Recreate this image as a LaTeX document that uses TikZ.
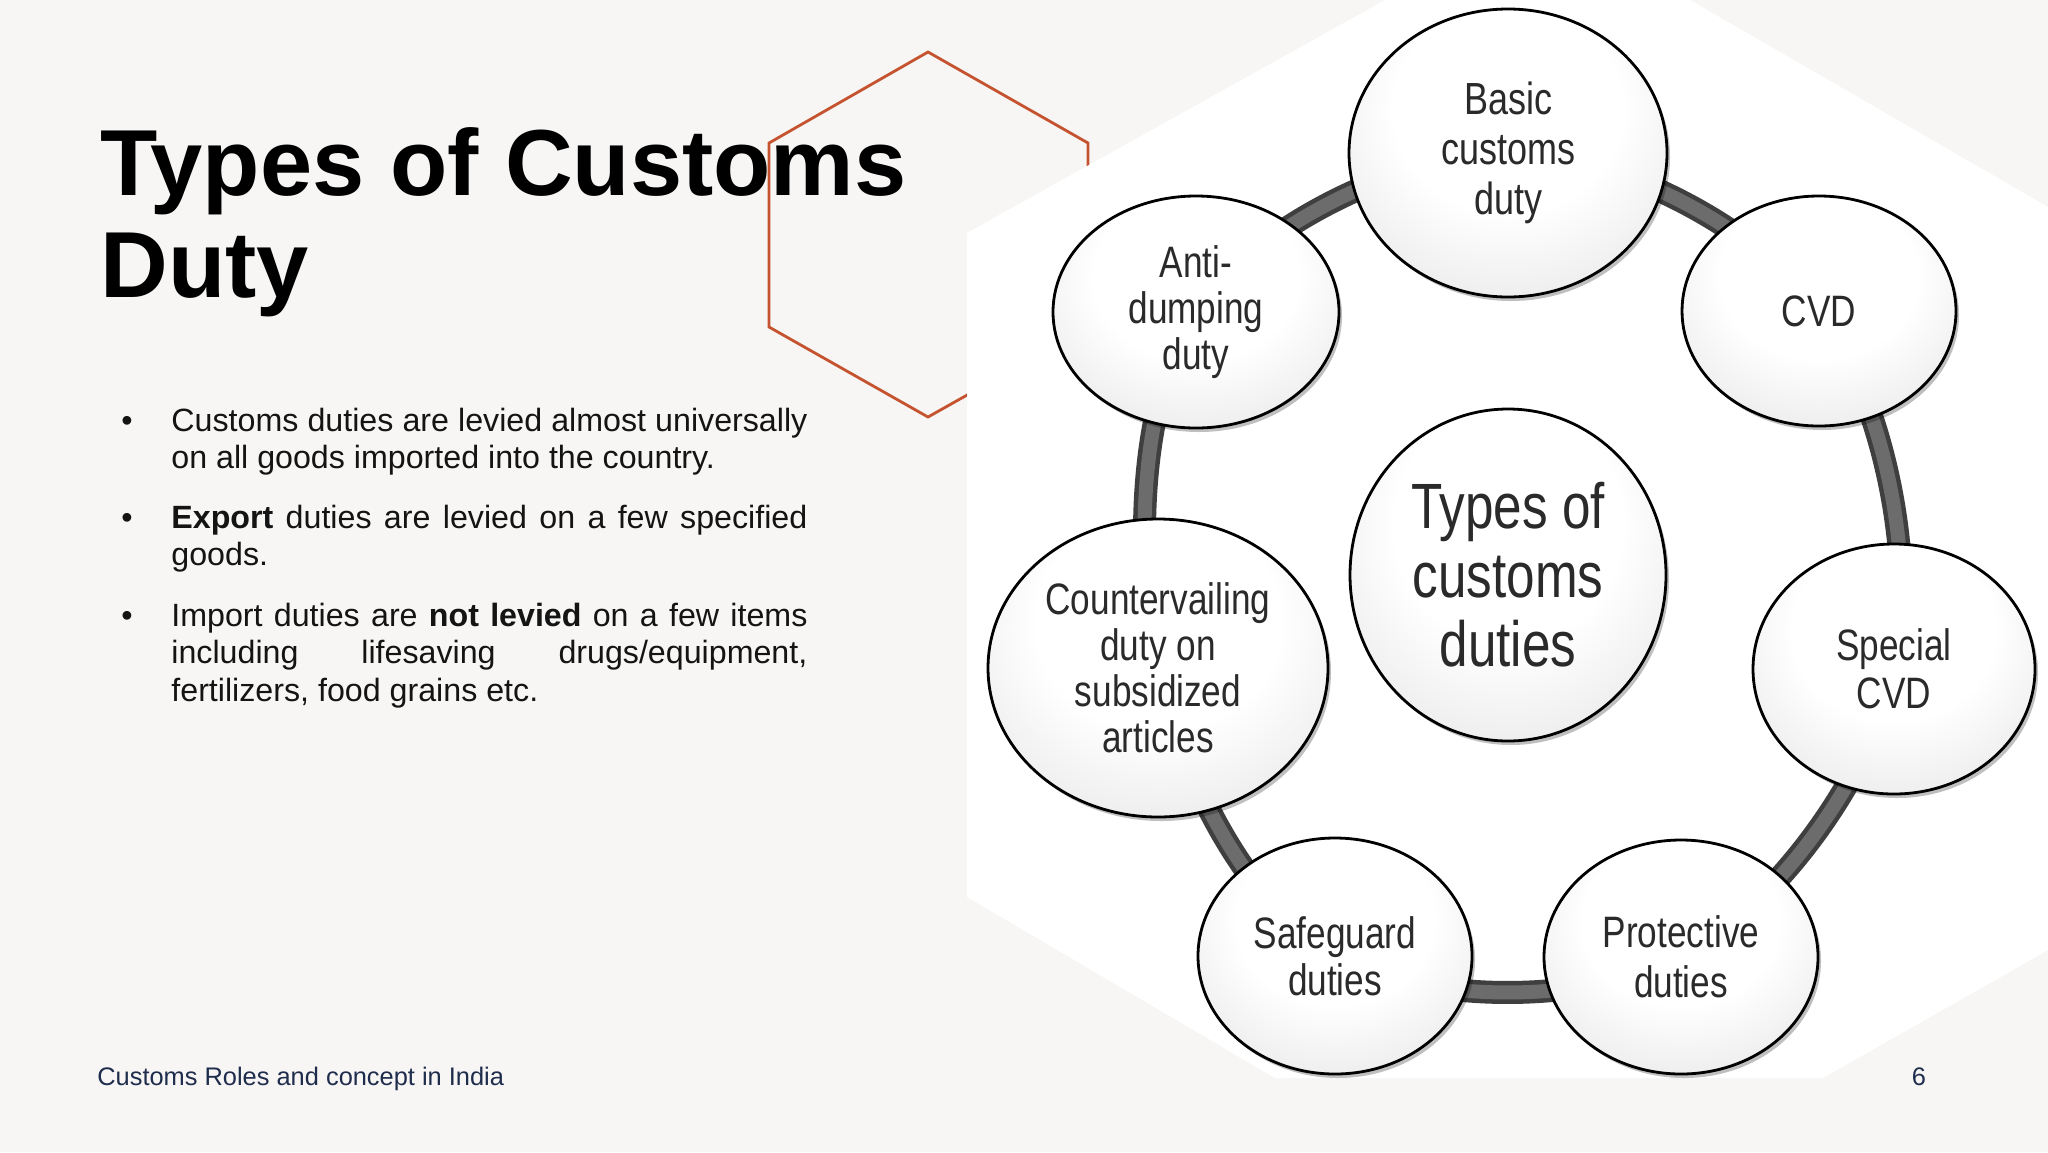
\documentclass[tikz,border=0pt]{standalone}
\usepackage{fontspec}
\setmainfont{Liberation Sans}
\newfontfamily\narrowfont[FakeStretch=0.8]{Liberation Sans}
\usetikzlibrary{shapes.geometric,shadows}
\definecolor{bg}{HTML}{F7F6F4}
\definecolor{rust}{HTML}{C5532F}
\definecolor{navy}{HTML}{1F2D4D}
\definecolor{bubtext}{HTML}{2A2A2A}
\definecolor{barout}{HTML}{3F3F3F}
\definecolor{barin}{HTML}{6C6C6C}
\pgfdeclareradialshading{bubble}{\pgfpoint{0bp}{12bp}}{color(0bp)=(white); color(18bp)=(white); color(38bp)=(black!11); color(50bp)=(black!34)}
\begin{document}
\begin{tikzpicture}[x=0.5pt,y=-0.5pt,
  bubble/.style={ellipse, draw=black, line width=1.4pt, shade, shading=bubble,
    inner sep=0pt, outer sep=0pt, align=center, text=bubtext,
    font=\narrowfont\fontsize{22}{24}\selectfont,
    drop shadow={opacity=0.25, shadow xshift=1.5pt, shadow yshift=-2pt, fill=black}},
  para/.style={anchor=base west, inner sep=0pt, text width=318pt, align=justify,
    font=\fontsize{16.1}{18.75}\selectfont, text=black!92},
  bul/.style={anchor=base, inner sep=0pt, font=\fontsize{16.1}{18.75}\selectfont, text=black!92},
  foot/.style={anchor=base west, inner sep=0pt, font=\fontsize{12.7}{15}\selectfont, text=navy},
  ringout/.style={draw=barout, line width=11.5pt},
  ringin/.style={draw=barin, line width=7pt}
]
\useasboundingbox (0,0) rectangle (2048,1152);
\fill[bg] (0,0) rectangle (2048,1152);
% orange hexagon outline
\draw[rust, line width=1.4pt, line join=miter] (928,52) -- (1088,143) -- (1088,327) -- (928,417) -- (769,327) -- (769,143) -- cycle;
% white picture area
\fill[white] (967,233) -- (1385,0) -- (1690,0) -- (2048,207) -- (2048,950) -- (1823,1078) -- (1275,1078) -- (967,897) -- cycle;
% title
\node[anchor=base west, inner sep=0pt, align=left, font=\fontsize{46.9}{51}\selectfont\bfseries, text=black] (title) at (100,297) {Types of Customs\\Duty};
% bullets
\node[bul] (b1) at (127,431) {•};
\node[para] (p1) at (171,431) {\hyphenpenalty=10000 Customs duties are levied almost universally on all goods imported into the country.};
\node[bul] (b2) at (127,528) {•};
\node[para] (p2) at (171,528) {\hyphenpenalty=10000 \textbf{Export} duties are levied on a few specified goods.};
\node[bul] (b3) at (127,626) {•};
\node[para] (p3) at (171,626) {\hyphenpenalty=10000 Import duties are \textbf{not levied} on a few items\linebreak including lifesaving drugs/equipment,\linebreak fertilizers, food grains etc.};
% footer
\node[foot] (footer) at (97,1085) {Customs Roles and concept in India};
\node[anchor=base, inner sep=0pt, font=\fontsize{12.7}{15}\selectfont, text=navy] (pageno) at (1919,1085) {6};
% ring connectors
\coordinate (pBasic) at (1508,153);
\coordinate (pCVD) at (1819,311);
\coordinate (pSpecial) at (1894,669);
\coordinate (pProt) at (1681,957);
\coordinate (pSafe) at (1335,956);
\coordinate (pCounter) at (1158,668);
\coordinate (pAnti) at (1196,312);
\coordinate (pCenter) at (1508,575);
\draw[ringout] plot[smooth cycle, tension=0.6] coordinates {(pBasic) (pCVD) (pSpecial) (pProt) (pSafe) (pCounter) (pAnti)};
\draw[ringin] plot[smooth cycle, tension=0.6] coordinates {(pBasic) (pCVD) (pSpecial) (pProt) (pSafe) (pCounter) (pAnti)};
% bubbles
\node[bubble, minimum width=159pt, minimum height=144pt, font=\narrowfont\fontsize{22.5}{25}\selectfont] (basic) at (pBasic) {Basic\\customs\\duty};
\node[bubble, minimum width=137pt, minimum height=115pt] (cvd) at (pCVD) {CVD};
\node[bubble, minimum width=141pt, minimum height=125pt] (special) at (pSpecial) {Special\\CVD};
\node[bubble, minimum width=137pt, minimum height=117pt, font=\narrowfont\fontsize{22}{25}\selectfont] (prot) at (pProt) {Protective\\duties};
\node[bubble, minimum width=137pt, minimum height=118pt, font=\narrowfont\fontsize{22}{23.5}\selectfont] (safe) at (pSafe) {Safeguard\\duties};
\node[bubble, minimum width=170pt, minimum height=149pt, font=\narrowfont\fontsize{22}{23}\selectfont] (counter) at (pCounter) {Countervailing\\duty on\\subsidized\\articles};
\node[bubble, minimum width=143pt, minimum height=116pt, font=\narrowfont\fontsize{22}{23}\selectfont] (anti) at (pAnti) {Anti-\\dumping\\duty};
\node[bubble, minimum width=158pt, minimum height=166pt, font=\narrowfont\fontsize{32}{34.5}\selectfont] (center) at (pCenter) {Types of\\customs\\duties};
\end{tikzpicture}
\end{document}
